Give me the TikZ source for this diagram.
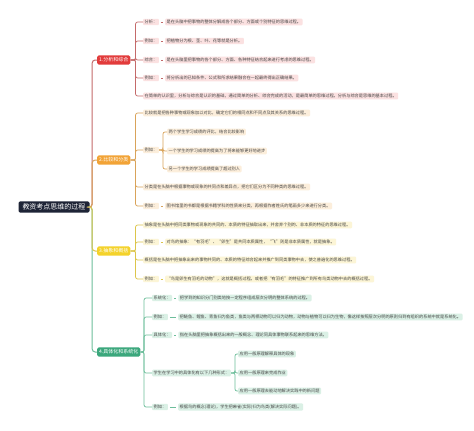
\documentclass[tikz,border=0pt]{standalone}
\usepackage{fontspec}
\newfontfamily\cjk{Noto Sans CJK SC}
\usetikzlibrary{positioning}
\definecolor{rootc}{HTML}{1E2436}
\definecolor{redc}{HTML}{E23B3B}
\definecolor{redl}{HTML}{FBE1E1}
\definecolor{redk}{HTML}{C46A6A}
\definecolor{orac}{HTML}{F2A336}
\definecolor{oral}{HTML}{FCEEDB}
\definecolor{orak}{HTML}{D9A35A}
\definecolor{yelc}{HTML}{F4D22A}
\definecolor{yell}{HTML}{FCF5D6}
\definecolor{yelk}{HTML}{DCC54A}
\definecolor{grnc}{HTML}{3BA77C}
\definecolor{grnl}{HTML}{DAF0E5}
\definecolor{grnk}{HTML}{6DBE9B}

\begin{document}
\begin{tikzpicture}[x=1pt, y=-1pt,
  root/.style={fill=rootc, text=white, rounded corners=1.5pt, inner xsep=4pt, inner ysep=2.5pt, font=\cjk\fontsize{7}{8}\selectfont},
  topic/.style={anchor=west, text=white, rounded corners=1.5pt, inner xsep=2pt, inner ysep=2.2pt, font=\cjk\fontsize{5}{6}\selectfont},
  leaf/.style={anchor=west, text=black!72, rounded corners=1pt, inner xsep=1.5pt, inner ysep=1.3pt, font=\cjk\fontsize{4.2}{5}\selectfont},
  trunk/.style={rounded corners=3pt, line width=1pt},
  link/.style={rounded corners=2pt, line width=0.7pt},
  joint/.style={line width=0.6pt, shorten <=1.8pt, shorten >=1.8pt}]
  \useasboundingbox[fill=white] (0,0) rectangle (474,431);
  % Nodes
  \node[root] (root) at (54,207) {教资考点思维的过程};
  \node[topic, fill=redc] (b1) at (97,60) {1.分析和综合};
  \node[topic, fill=orac] (b2) at (97,160) {2.比较和分类};
  \node[topic, fill=yelc] (b3) at (97,251) {3.抽象和概括};
  \node[topic, fill=grnc] (b4) at (97,352) {4.具体化和系统化};
  % 1 分析和综合
  \node[leaf, fill=redl] (l11) at (143,22) {分析：};
  \node[leaf, fill=redl, right=6pt of l11] (t11) {是在头脑中把事物的整体分解成各个部分、方面或个别特征的思维过程。};
  \node[leaf, fill=redl] (l12) at (143,41) {例如：};
  \node[leaf, fill=redl, right=6pt of l12] (t12) {把植物分为根、茎、叶、花等就是分析。};
  \node[leaf, fill=redl] (l13) at (143,60) {综合：};
  \node[leaf, fill=redl, right=6pt of l13] (t13) {是在头脑里把事物的各个部分、方面、各种特征结合起来进行考虑的思维过程。};
  \node[leaf, fill=redl] (l14) at (143,78) {例如：};
  \node[leaf, fill=redl, right=6pt of l14] (t14) {将分析出的已知条件、公式和所求结果融合在一起最终得出正确结果。};
  \node[leaf, fill=redl] (t15) at (143,96) {在简单的认识里，分析与综合是认识的基础，通过简单的分析、综合完成的活动，是最简单的思维过程。分析与综合是思维的基本过程。};
  % 2 比较和分类
  \node[leaf, fill=oral] (t21) at (143,113) {比较就是把各种事物或现象加以对比，确定它们的相同点和不同点及其关系的思维过程。};
  \node[leaf, fill=oral] (l22) at (143,150) {例如：};
  \node[leaf, fill=oral] (t221) at (167,132) {两个学生学习成绩的评比，结合比较影响};
  \node[leaf, fill=oral] (t222) at (167,151) {一个学生的学习成绩的提高为了将来能够更好地进步};
  \node[leaf, fill=oral] (t223) at (167,169) {另一个学生的学习成绩提高了超过别人};
  \node[leaf, fill=oral] (t23) at (143,187) {分类是在头脑中根据事物或现象的共同点和差异点，把它们区分为不同种类的思维过程。};
  \node[leaf, fill=oral] (l24) at (143,206) {例如：};
  \node[leaf, fill=oral, right=6pt of l24] (t24) {图书馆里的书都是根据书籍学科的性质来分类，再根据作者姓氏的笔画多少来进行分类。};
  % 3 抽象和概括
  \node[leaf, fill=yell] (t31) at (143,225) {抽象是在头脑中把同类事物或现象的共同的、本质的特征抽取出来，并舍弃个别的、非本质的特征的思维过程。};
  \node[leaf, fill=yell] (l32) at (143,242) {例如：};
  \node[leaf, fill=yell, right=6pt of l32] (t32) {对鸟的抽象：“有羽毛”、“卵生”是共同本质属性，“飞”则是非本质属性，就是抽象。};
  \node[leaf, fill=yell] (t33) at (143,260) {概括是在头脑中把抽象出来的事物共同的、本质的特征综合起来并推广到同类事物中去，使之普遍化的思维过程。};
  \node[leaf, fill=yell] (l34) at (143,279) {例如：};
  \node[leaf, fill=yell, right=6pt of l34] (t34) {“鸟是卵生有羽毛的动物”，这就是概括过程。或者把“有羽毛”的特征推广到所有鸟类动物中去的概括过程。};
  % 4 具体化和系统化
  \node[leaf, fill=grnl] (l41) at (152,298) {系统化：};
  \node[leaf, fill=grnl, right=6pt of l41] (t41) {把学到的知识分门别类地按一定程序组成层次分明的整体系统的过程。};
  \node[leaf, fill=grnl] (l42) at (152,317) {例如：};
  \node[leaf, fill=grnl, right=10pt of l42] (t42) {把鲢鱼、鲤鱼、青鱼归为鱼类，鱼类与两栖动物可以归为动物，动物与植物可以归为生物，像这样按照层次分明的原则归到有组织的系统中就是系统化。};
  \node[leaf, fill=grnl] (l43) at (152,335) {具体化：};
  \node[leaf, fill=grnl, right=6pt of l43] (t43) {指在头脑里把抽象概括出来的一般概念、理论同具体事物联系起来的思维方法。};
  \node[leaf, fill=grnl] (t44) at (152,373) {学生在学习中的具体化有以下几种形式：};
  \node[leaf, fill=grnl] (t441) at (238,354) {应用一般原理解释具体的现象};
  \node[leaf, fill=grnl] (t442) at (238,373) {应用一般原理来完成作业};
  \node[leaf, fill=grnl] (t443) at (238,391) {应用一般原理去能动地解决实践中的新问题};
  \node[leaf, fill=grnl] (l45) at (152,407) {例如：};
  \node[leaf, fill=grnl, right=10pt of l45] (t45) {根据鸟的概念(理论)，学生把麻雀(实际)归为鸟类(解决实际问题)。};
  % Connections
  \draw[trunk, redk] (root.east) -- ++(2.5,0) |- (b1.west);
  \draw[trunk, orak] (root.east) -- ++(2.5,0) |- (b2.west);
  \draw[trunk, grnk] (root.east) -- ++(2.5,0) |- (b4.west);
  \draw[trunk, yelk] (root.east) -- ++(2.5,0) |- (b3.west);
  \draw[link, redk] (b1.east) -- ++(5,0) |- (l11.west);
  \draw[link, redk] (b1.east) -- ++(5,0) |- (l12.west);
  \draw[link, redk] (b1.east) -- ++(5,0) |- (l13.west);
  \draw[link, redk] (b1.east) -- ++(5,0) |- (l14.west);
  \draw[link, redk] (b1.east) -- ++(5,0) |- (t15.west);
  \draw[joint, redk] (l11) -- (t11);
  \draw[joint, redk] (l12) -- (t12);
  \draw[joint, redk] (l13) -- (t13);
  \draw[joint, redk] (l14) -- (t14);
  \draw[link, orak] (b2.east) -- ++(5,0) |- (t21.west);
  \draw[link, orak] (b2.east) -- ++(5,0) |- (l22.west);
  \draw[link, orak] (b2.east) -- ++(5,0) |- (t23.west);
  \draw[link, orak] (b2.east) -- ++(5,0) |- (l24.west);
  \draw[link, orak] (l22.east) -- ++(4,0) |- (t221.west);
  \draw[link, orak] (l22.east) -- ++(4,0) |- (t222.west);
  \draw[link, orak] (l22.east) -- ++(4,0) |- (t223.west);
  \draw[joint, orak] (l24) -- (t24);
  \draw[link, yelk] (b3.east) -- ++(5,0) |- (t31.west);
  \draw[link, yelk] (b3.east) -- ++(5,0) |- (l32.west);
  \draw[link, yelk] (b3.east) -- ++(5,0) |- (t33.west);
  \draw[link, yelk] (b3.east) -- ++(5,0) |- (l34.west);
  \draw[joint, yelk] (l32) -- (t32);
  \draw[joint, yelk] (l34) -- (t34);
  \draw[link, grnk] (b4.east) -- ++(3.5,0) |- (l41.west);
  \draw[link, grnk] (b4.east) -- ++(3.5,0) |- (l42.west);
  \draw[link, grnk] (b4.east) -- ++(3.5,0) |- (l43.west);
  \draw[link, grnk] (b4.east) -- ++(3.5,0) |- (t44.west);
  \draw[link, grnk] (b4.east) -- ++(3.5,0) |- (l45.west);
  \draw[joint, grnk] (l41) -- (t41);
  \draw[joint, grnk] (l42) -- (t42);
  \draw[joint, grnk] (l43) -- (t43);
  \draw[joint, grnk] (l45) -- (t45);
  \draw[link, grnk] (t44.east) -- ++(4,0) |- (t441.west);
  \draw[link, grnk] (t44.east) -- ++(4,0) |- (t442.west);
  \draw[link, grnk] (t44.east) -- ++(4,0) |- (t443.west);
\end{tikzpicture}
\end{document}
